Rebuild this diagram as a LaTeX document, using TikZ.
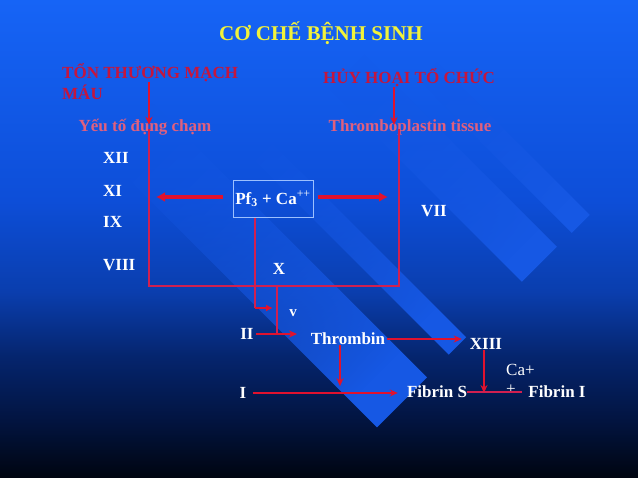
\documentclass[tikz,border=0pt]{standalone}
\usepackage{fontspec}
\setmainfont{Liberation Serif}
\usetikzlibrary{arrows.meta,calc,fadings}

\definecolor{bg0}{HTML}{000510}
\definecolor{bg1}{HTML}{021440}
\definecolor{bg2}{HTML}{05246C}
\definecolor{bg3}{HTML}{0A3EAE}
\definecolor{bg4}{HTML}{0D4ED8}
\definecolor{bg5}{HTML}{1664F6}
\definecolor{bandblue}{HTML}{1658E4}
\definecolor{titleyel}{HTML}{F2F23A}
\definecolor{headred}{HTML}{C4163E}
\definecolor{subpink}{HTML}{E0607E}
\definecolor{arrred}{HTML}{E0122E}
\definecolor{linered}{HTML}{D02050}
\definecolor{boxline}{HTML}{9CC0FF}
% tikz fits the box into 25bp..75bp
\pgfdeclareverticalshading{slidebg}{100bp}{color(0bp)=(bg0); color(25bp)=(bg0); color(31bp)=(bg1);
  color(37.5bp)=(bg2); color(44.5bp)=(bg3); color(54bp)=(bg4); color(75bp)=(bg5); color(100bp)=(bg5)}
\tikzfading[name=bandfade, left color=transparent!100, middle color=transparent!0, right color=transparent!0]

\begin{document}
\begin{tikzpicture}[x=1pt, y=-1pt,
        every node/.style={font=\bfseries\fontsize{17}{20}\selectfont, text=white, inner sep=0pt},
        head/.style={text=headred, align=left},
        sub/.style={text=subpink},
        factor/.style={anchor=west},
        pfbox/.style={draw=boxline, line width=0.8pt, minimum width=80pt, minimum height=37pt},
        link/.style={draw=linered, line width=1.1pt},
        bigarr/.style={draw=arrred, line width=3.5pt, -{Latex[length=9pt,width=10pt]}},
        medarr/.style={draw=arrred, line width=1.7pt, -{Stealth[length=8pt,width=7pt]}},
        band/.style={fill=bandblue, path fading=bandfade, fading angle=-45}
    ]
        % Background
        \shade[shading=slidebg] (0,0) rectangle (638,478);
        \foreach \lo/\hi/\st in {-50/50/200, -130/-95/300, -311/-241/380, -375/-339/460}
            \fill[band] ({(\st-\lo)/2},{(\st+\lo)/2}) -- ({(805-\lo)/2},{(805+\lo)/2})
                -- ({(805-\hi)/2},{(805+\hi)/2}) -- ({(\st-\hi)/2},{(\st+\hi)/2}) -- cycle;

        % Title and causes
        \node (title) at (321,33) [font=\bfseries\fontsize{21}{24}\selectfont, text=titleyel] {CƠ CHẾ BỆNH SINH};
        \node (ttmm) at (62,82) [head, anchor=west, font=\bfseries\fontsize{17}{21}\selectfont] {TỔN THƯƠNG MẠCH\\MÁU};
        \node (hhtc) at (409,78) [head] {HỦY HOẠI TỔ CHỨC};
        \node (ytdc) at (145,127) [sub] {Yếu tố đụng chạm};
        \node (tbt) at (410,127) [sub] {Thromboplastin tissue};

        % Factors
        \node (xii) at (103,158) [factor] {XII};
        \node (xi) at (103,191) [factor] {XI};
        \node (ix) at (103,222) [factor] {IX};
        \node (viii) at (103,265) [factor] {VIII};
        \node (pf) at (273,199) [pfbox] {Pf\textsubscript{3} + Ca\textsuperscript{\mdseries ++}};
        \node (vii) at (434,211) {VII};
        \node (x) at (279,269) {X};
        \node (v) at (293,313) [font=\bfseries\fontsize{15}{18}\selectfont] {v};
        \node (ii) at (247,334) {II};
        \node (thr) at (348,339) {Thrombin};
        \node (xiii) at (486,344) {XIII};
        \node (ca) at (506,379) [anchor=west, align=left, font=\fontsize{17}{19}\selectfont] {Ca+\\+};
        \node (i) at (243,393) {I};
        \node (fibs) at (437,392) {Fibrin S};
        \node (fibi) at (557,392) {Fibrin I};

        % Junctions
        \coordinate (lcol) at (149,0);
        \coordinate (rcol) at (399,0);
        \coordinate (hcol) at (394,0);
        \coordinate (sw) at (149,286);
        \coordinate (se) at (399,286);
        \coordinate (pfdrop) at (255,308);
        \coordinate (xjoin) at (277,334);
        \coordinate (iiend) at (297,334);
        \coordinate (thrcol) at (340,0);
        \coordinate (fjoin) at (484,393);

        % Connections
        \draw[medarr] (lcol |- ttmm.center) -- ([yshift=-6pt]lcol |- ytdc.north);
        \draw[medarr] (hcol |- hhtc.south) -- ([yshift=-6pt]hcol |- tbt.north);
        \draw[link] ([yshift=6pt]lcol |- ytdc.south) -- (sw) -- (se) -- ([yshift=6pt]rcol |- tbt.south);
        \draw[bigarr, shorten <=10pt, shorten >=7pt] ([yshift=2pt]pf.west) -- ([yshift=2pt]lcol |- pf.west);
        \draw[bigarr, shorten <=5pt, shorten >=11pt] ([yshift=2pt]pf.east) -- ([yshift=2pt]rcol |- pf.east);
        \draw[link] (pf.south -| pfdrop) -- (pfdrop);
        \draw[bigarr, line width=2.6pt, -{Latex[length=7pt,width=7pt]}] (pfdrop) -- ++(18,0);
        \draw[link] (sw -| xjoin) -- (xjoin);
        \draw[medarr, shorten <=2pt] (ii.east |- xjoin) -- (iiend);
        \draw[medarr, shorten <=2pt, shorten >=8pt] (thr.east) -- (thr.east -| xiii.west);
        \draw[medarr] (thrcol |- thr.south) -- ++(0,41);
        \draw[medarr, shorten <=6pt, shorten >=9pt] (i.east) -- (i.east -| fibs.west);
        \draw[medarr] (fjoin |- xiii.south) -- (fjoin);
        \draw[link, shorten >=6pt] (fibs.east) -- (fibs.east -| fibi.west);
    \end{tikzpicture}
\end{document}
